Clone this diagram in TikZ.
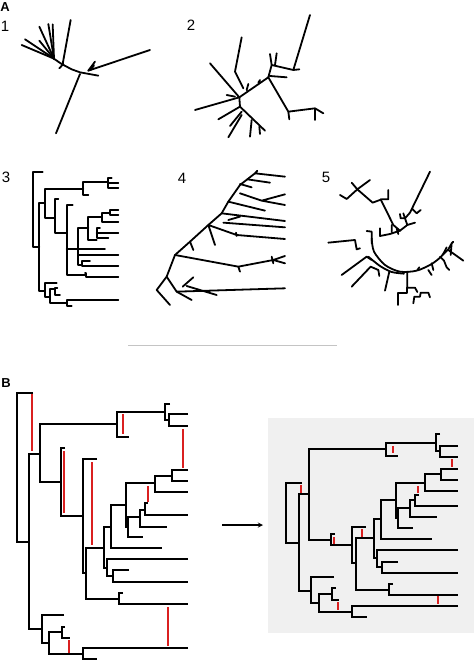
\documentclass[tikz,border=0pt]{standalone}
\usepackage{fontspec}
\setmainfont{Liberation Sans}
\usetikzlibrary{arrows}
\definecolor{markred}{RGB}{218,32,32}
\definecolor{panelgray}{RGB}{240,240,240}
\definecolor{rulegray}{RGB}{196,196,196}
\begin{document}
\begin{tikzpicture}[x=1pt, y=-1pt,
        every node/.style={font=\fontsize{15}{15}\selectfont, inner sep=0pt},
        panellabel/.style={font=\fontsize{13}{13}\selectfont\bfseries},
        branch/.style={line width=1.8pt, line cap=round, line join=round},
        cladebranch/.style={line width=2.2pt, line join=miter},
        redbar/.style={draw=markred, line width=2pt},
        arrow/.style={->, >=stealth, line width=1.3pt},
        divider/.style={draw=rulegray, line width=0.8pt}
      ]
      \useasboundingbox (0,0) rectangle (474,661);
      % panel labels
      \node[panellabel] (labA) at (5,7) {A};
      \node (lab1) at (5,26) {1};
      \node (lab2) at (191,25) {2};
      \node (lab3) at (6,177) {3};
      \node (lab4) at (182,178) {4};
      \node (lab5) at (326,177) {5};
      \node[panellabel] (labB) at (6,383) {B};
      % tree 1 (unrooted)
      \begin{scope}[shift={(0,0)}, scale=0.3333]
        \draw[branch] (450,150) -- (265,212) (160,175) -- (185,192) -- (215,208) -- (240,217) -- (295,227);
        \draw[branch] (240,222) -- (168,400) (188,192) -- (212,60) (178,205) -- (190,192);
        \draw[branch] (265,212) -- (285,185) (272,210) -- (282,196);
        \foreach \ex/\ey in {65/135, 75/118, 118/80, 145/72, 158/73, 118/122}
          \draw[branch] (162,176) -- (\ex,\ey);
      \end{scope}
      % tree 2 (unrooted)
      \begin{scope}[shift={(180,0)}, scale=0.3333]
        \draw[branch] (178,292) -- (45,330) (178,292) -- (90,190) (190,265) -- (165,215) -- (185,112);
        \draw[branch] (178,292) -- (265,232) (200,270) -- (205,252) (235,248) -- (240,240);
        \draw[branch] (270,228) -- (320,232) (265,232) -- (275,195) -- (270,162) (285,195) -- (290,160);
        \draw[branch] (275,195) -- (340,210) -- (390,45) (340,210) -- (358,208);
        \draw[branch] (265,232) -- (325,335) -- (405,325) -- (430,340) (405,325) -- (405,360) (325,335) -- (328,358);
        \draw[branch] (178,292) -- (180,320) -- (255,392) (180,320) -- (115,358) (185,335) -- (150,378);
        \draw[branch] (185,345) -- (145,412) (215,360) -- (210,410) (238,380) -- (240,402) (140,285) -- (165,290);
      \end{scope}
      % tree 3 (rectangular)
      \begin{scope}[shift={(0,160)}, scale=0.3333]
        \draw[branch] (128,35) -- (100,35) -- (100,260) -- (118,260);
        \draw[branch] (135,128) -- (118,128) -- (118,392) -- (135,392);
        \draw[branch] (250,88) -- (135,88) -- (135,175) -- (165,175);
        \draw[branch] (325,65) -- (250,65) -- (250,105) -- (265,105);
        \draw[branch] (335,55) -- (325,55) -- (325,85) -- (355,85) (325,70) -- (355,70);
        \draw[branch] (175,118) -- (165,118) -- (165,218) -- (200,218);
        \draw[branch] (218,135) -- (200,135) -- (200,345) -- (258,345) (200,268) -- (235,268);
        \draw[branch] (255,338) -- (258,338) -- (258,352) -- (355,352);
        \draw[branch] (265,205) -- (235,205) -- (235,315) -- (245,315) (235,268) -- (315,268) (235,285) -- (355,285);
        \draw[branch] (270,302) -- (245,302) -- (245,318) -- (355,318);
        \draw[branch] (305,172) -- (265,172) -- (265,240) -- (290,240);
        \draw[branch] (330,160) -- (305,160) -- (305,185) -- (355,185) (355,150) -- (330,150) -- (330,165) -- (355,165);
        \draw[branch] (300,205) -- (290,205) -- (290,235) -- (325,235) (290,218) -- (355,218);
        \draw[branch] (170,370) -- (135,370) -- (135,410) -- (150,410);
        \draw[branch] (165,388) -- (150,388) -- (150,428) -- (200,428);
        \draw[branch] (172,385) -- (165,385) -- (165,405) -- (180,405);
        \draw[branch] (355,420) -- (200,420) -- (200,438) -- (215,438);
      \end{scope}
      % tree 4 (slanted)
      \begin{scope}[shift={(140,160)}, scale=0.3333]
        \draw[branch] (50,390) -- (80,350) -- (105,285) -- (150,245) -- (205,195) -- (245,160) -- (265,125) -- (300,75) -- (345,40);
        \draw[branch] (50,390) -- (90,435) (80,350) -- (110,395) -- (155,420);
        \draw[branch] (110,395) -- (435,385) (128,380) -- (160,352) (140,378) -- (230,405);
        \draw[branch] (105,285) -- (295,320) -- (300,335) (295,320) -- (400,300) -- (435,288) (400,300) -- (435,310) (395,290) -- (400,310);
        \draw[branch] (150,245) -- (160,270) (205,195) -- (225,255) (205,195) -- (290,225) -- (435,237) (288,218) -- (290,228);
        \draw[branch] (245,160) -- (435,183) (250,188) -- (435,202) (265,180) -- (300,170);
        \draw[branch] (265,125) -- (375,152) (300,100) -- (365,122) -- (435,103) (365,122) -- (435,135);
        \draw[branch] (300,72) -- (335,82) (322,58) -- (390,68) (345,40) -- (435,50) (345,40) -- (352,32);
      \end{scope}
      % tree 5 (circular)
      \begin{scope}[shift={(300,160)}, scale=0.3333]
        \draw[branch] (390,35) -- (330,158) (338,148) -- (350,160) -- (362,150);
        \draw[branch] (330,158) -- (315,175) -- (310,160) (300,162) -- (302,175) -- (315,175);
        \draw[branch] (315,175) -- (322,195) -- (345,188) (300,212) -- (322,195);
        \draw[branch] (242,118) -- (280,195) -- (300,212);
        \draw[branch] (155,68) -- (172,88) -- (210,60);
        \draw[branch] (120,105) -- (140,117) -- (172,88) -- (218,128) -- (245,118) -- (265,118) -- (265,90);
        \draw[branch] (240,205) -- (240,228) -- (270,222) -- (300,212) (275,195) -- (275,215) (290,205) -- (295,222);
        \draw[branch] (200,213) -- (215,215) -- (215,250);
        \draw[branch] (85,248) -- (165,240) -- (170,268) -- (180,265);
        \draw[branch] plot[smooth] coordinates {(215,235) (222,275) (255,315) (300,335) (350,332) (395,312) (425,288) (440,262)};
        \draw[branch] plot[smooth] coordinates {(205,290) (240,318) (275,336) (312,341)};
        \draw[branch] (125,345) -- (200,290) -- (215,300);
        \draw[branch] (155,380) -- (212,320) -- (235,330) -- (238,348);
        \draw[branch] (255,392) -- (268,335);
        \draw[branch] (322,336) -- (322,383) -- (345,383) -- (352,396);
        \draw[branch] (295,435) -- (295,398) -- (322,398) -- (322,383);
        \draw[branch] (340,430) -- (343,410) -- (360,410) -- (362,398) -- (385,398) -- (390,412);
        \draw[branch] (352,330) -- (358,322) (385,330) -- (395,345) (395,310) -- (400,330);
        \draw[branch] (420,290) -- (432,302) -- (440,322) -- (448,330);
        \draw[branch] (428,285) -- (445,268) -- (455,250) -- (460,245) (445,270) -- (490,302) (455,250) -- (452,285);
      \end{scope}
      % divider between A and B
      \coordinate (ruleleft) at (128,345);
      \coordinate (ruleright) at (337,345);
      \draw[divider] (ruleleft) -- (ruleright);
      % panel B, left tree
      \draw[cladebranch] (33,393) -- (17,393) -- (17,542) -- (29,542);
      \draw[cladebranch] (40,454) -- (29,454) -- (29,629) -- (42,629);
      \draw[cladebranch] (117,424) -- (40,424) -- (40,482) -- (61,482);
      \draw[cladebranch] (165,412) -- (117,412) -- (117,437) -- (129,437);
      \draw[cladebranch] (170,404) -- (165,404) -- (165,420) -- (169,420);
      \draw[cladebranch] (188,414) -- (169,414) -- (169,426) -- (188,426);
      \draw[cladebranch] (65,448) -- (61,448) -- (61,516) -- (83,516);
      \draw[cladebranch] (97,459) -- (83,459) -- (83,573) -- (86,573);
      \draw[cladebranch] (104,548) -- (86,548) -- (86,599) -- (119,599);
      \draw[cladebranch] (123,593) -- (119,593) -- (119,604) -- (188,604);
      \draw[cladebranch] (111,527) -- (104,527) -- (104,568) -- (107,568);
      \draw[cladebranch] (188,559) -- (107,559) -- (107,576) -- (113,576);
      \draw[cladebranch] (129,570) -- (113,570) -- (113,582) -- (188,582);
      \draw[cladebranch] (126,505) -- (111,505) -- (111,548) -- (162,548);
      \draw[cladebranch] (155,483) -- (126,483) -- (126,527) -- (128,527);
      \draw[cladebranch] (140,517) -- (128,517) -- (128,537) -- (143,537);
      \draw[cladebranch] (145,510) -- (140,510) -- (140,527) -- (167,527);
      \draw[cladebranch] (148,503) -- (145,503) -- (145,515) -- (188,515);
      \draw[cladebranch] (172,476) -- (155,476) -- (155,492) -- (188,492);
      \draw[cladebranch] (188,470) -- (172,470) -- (172,481) -- (188,481);
      \draw[cladebranch] (64,615) -- (42,615) -- (42,643) -- (49,643);
      \draw[cladebranch] (62,632) -- (49,632) -- (49,654) -- (83,654);
      \draw[cladebranch] (65,627) -- (62,627) -- (62,638) -- (70,638);
      \draw[cladebranch] (188,648) -- (83,648) -- (83,659) -- (97,659);
      \foreach \rx/\ra/\rb in {32/394/451, 123/414/434, 183/429/468, 64/451/513,
          92/462/545, 148/486/502, 69/640/653, 168/607/646}
        \draw[redbar] (\rx,\ra) -- (\rx,\rb);
      % arrow to the collapsed tree
      \coordinate (arrowtail) at (222,525);
      \coordinate (arrowtip) at (263,525);
      \draw[arrow] (arrowtail) -- (arrowtip);
      % panel B, right tree on grey
      \fill[panelgray] (268,418) rectangle (474,633);
      \draw[cladebranch] (302,483) -- (286,483) -- (286,543) -- (299,543);
      \draw[cladebranch] (309,494) -- (299,494) -- (299,591) -- (311,591);
      \draw[cladebranch] (386,449) -- (309,449) -- (309,540) -- (331,540);
      \draw[cladebranch] (436,443) -- (386,443) -- (386,456) -- (398,456);
      \draw[cladebranch] (440,434) -- (436,434) -- (436,451) -- (440,451);
      \draw[cladebranch] (458,446) -- (440,446) -- (440,457) -- (458,457);
      \draw[cladebranch] (335,534) -- (331,534) -- (331,545) -- (352,545);
      \draw[cladebranch] (366,527) -- (352,527) -- (352,563) -- (356,563);
      \draw[cladebranch] (374,538) -- (356,538) -- (356,590) -- (389,590);
      \draw[cladebranch] (393,584) -- (389,584) -- (389,595) -- (458,595);
      \draw[cladebranch] (381,519) -- (374,519) -- (374,558) -- (377,558);
      \draw[cladebranch] (458,550) -- (377,550) -- (377,567) -- (382,567);
      \draw[cladebranch] (398,562) -- (382,562) -- (382,573) -- (458,573);
      \draw[cladebranch] (396,500) -- (381,500) -- (381,539) -- (432,539);
      \draw[cladebranch] (425,483) -- (396,483) -- (396,518) -- (398,518);
      \draw[cladebranch] (410,508) -- (398,508) -- (398,528) -- (413,528);
      \draw[cladebranch] (415,500) -- (410,500) -- (410,517) -- (437,517);
      \draw[cladebranch] (419,495) -- (415,495) -- (415,506) -- (458,506);
      \draw[cladebranch] (441,474) -- (425,474) -- (425,491) -- (458,491);
      \draw[cladebranch] (458,469) -- (441,469) -- (441,480) -- (458,480);
      \draw[cladebranch] (334,577) -- (311,577) -- (311,603) -- (319,603);
      \draw[cladebranch] (332,594) -- (319,594) -- (319,612) -- (352,612);
      \draw[cladebranch] (336,588) -- (332,588) -- (332,600) -- (339,600);
      \draw[cladebranch] (458,606) -- (352,606) -- (352,617) -- (367,617);
      \foreach \rx/\ra/\rb in {301/485/493, 393/446/453, 452/459/467, 418/486/493,
          334/537/544, 362/529/537, 338/602/610, 438/596/604}
        \draw[redbar] (\rx,\ra) -- (\rx,\rb);
    \end{tikzpicture}
\end{document}
